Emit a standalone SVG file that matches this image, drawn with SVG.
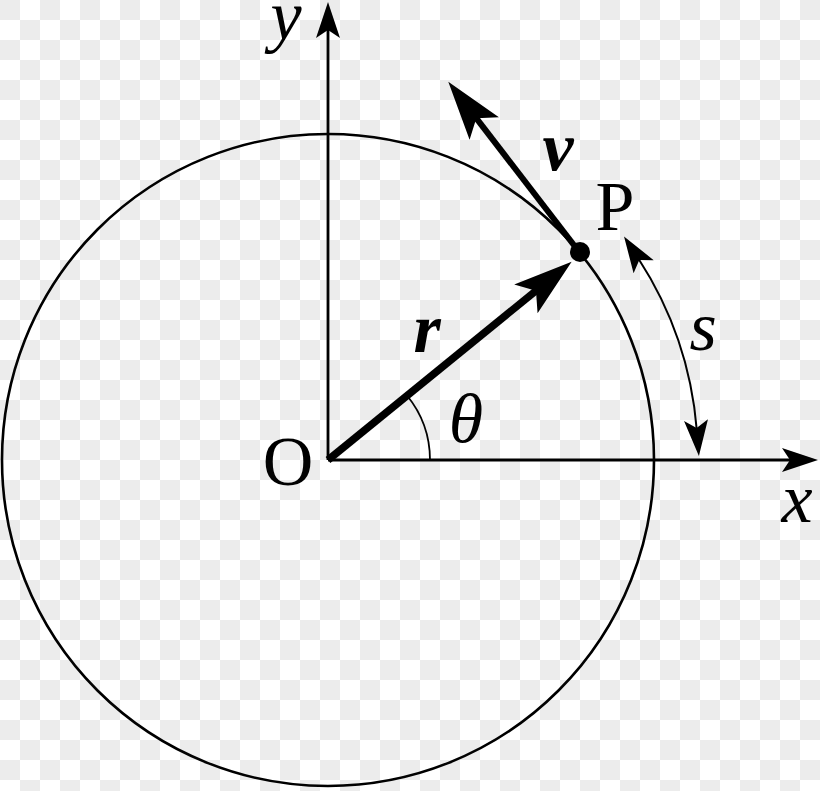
<svg xmlns="http://www.w3.org/2000/svg" width="820" height="791" viewBox="0 0 820 791">
<style>
.ln{fill:none;stroke:#000}
.lbl{font-family:'Liberation Serif','Times New Roman',serif;font-size:70px;fill:#000;text-anchor:middle}
.it{font-style:italic}
.bi{font-style:italic;font-weight:bold}
</style>
<defs>
<pattern id="cb" width="40" height="40" patternUnits="userSpaceOnUse">
<rect width="40" height="40" fill="#ffffff"/>
<rect width="20" height="20" fill="#ececec"/>
<rect x="20" y="20" width="20" height="20" fill="#ececec"/>
</pattern>
<marker id="ah" markerUnits="userSpaceOnUse" orient="auto-start-reverse" refX="10" refY="0" markerWidth="40" markerHeight="30" viewBox="0 -15 40 30" overflow="visible">
<path d="M36,0 L0,-12 L8,0 L0,12 Z" fill="#000"/>
</marker>
<marker id="ahb" markerUnits="userSpaceOnUse" orient="auto" refX="16" refY="0" markerWidth="62" markerHeight="40" viewBox="0 -20 62 40" overflow="visible">
<path d="M59,0 L0,-18.5 L13,0 L0,18.5 Z" fill="#000"/>
</marker>
</defs>
<rect width="820" height="791" fill="url(#cb)"/>
<g id="circle">
<circle cx="328" cy="460" r="326" class="ln" stroke-width="2.6"/>
</g>
<g id="connectors">
<path id="x-axis" d="M328,460 L792,460" class="ln" stroke-width="2.8" marker-end="url(#ah)"/>
<path id="y-axis" d="M328,460 L328,28" class="ln" stroke-width="2.8" marker-end="url(#ah)"/>
<path id="theta-arc" d="M430,460 A102,102 0 0 0 407,395.5" class="ln" stroke-width="1.8"/>
<path id="s-arc" d="M638.2,258.3 A370,370 0 0 1 696.8,430.1" class="ln" stroke-width="2" marker-start="url(#ah)" marker-end="url(#ah)"/>
<path id="r-vec" d="M328,460 L538.3,288.8" class="ln" stroke-width="7.5" marker-end="url(#ahb)"/>
<path id="v-vec" d="M580,253 L474.5,115.8" class="ln" stroke-width="6" marker-end="url(#ahb)"/>
</g>
<g id="point-P">
<circle cx="580" cy="252" r="10" fill="#000"/>
<text x="615" y="230" class="lbl">P</text>
</g>
<g id="origin-O">
<text x="288" y="485" class="lbl">O</text>
</g>
<g id="labels">
<text x="286" y="39" class="lbl it">y</text>
<text x="797" y="522" class="lbl it">x</text>
<text x="466" y="442" class="lbl it">θ</text>
<text x="703" y="350" class="lbl it">s</text>
<text x="558" y="170" class="lbl bi">v</text>
<text x="427" y="352" class="lbl bi">r</text>
</g>
</svg>
